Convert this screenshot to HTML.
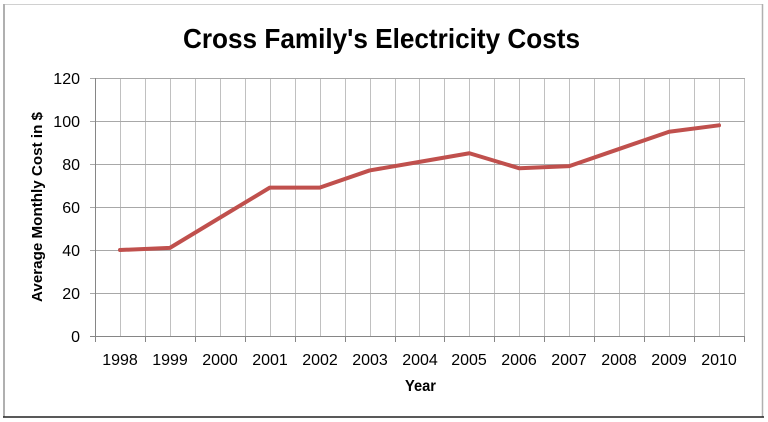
<!DOCTYPE html>
<html><head><meta charset="utf-8"><style>
html,body{margin:0;padding:0;background:#fff;}
svg{display:block;}
text{font-family:"Liberation Sans",sans-serif;fill:#000;}
</style></head><body>
<svg width="768" height="422" viewBox="0 0 768 422" xmlns="http://www.w3.org/2000/svg">
<rect x="0" y="0" width="768" height="422" fill="#fff"/>
<!-- frame -->
<line x1="4" y1="4.5" x2="763" y2="4.5" stroke="#d0d0d0" stroke-width="1"/>
<line x1="4" y1="4" x2="4" y2="417" stroke="#b0b0b0" stroke-width="2"/>
<line x1="762.5" y1="4" x2="762.5" y2="417" stroke="#b0b0b0" stroke-width="1.5"/>
<line x1="3" y1="417" x2="764" y2="417" stroke="#222" stroke-width="1.5"/>
<!-- title -->
<text x="381.5" y="48" font-size="28" font-weight="bold" text-anchor="middle" textLength="397" lengthAdjust="spacingAndGlyphs">Cross Family's Electricity Costs</text>
<!-- vertical gridlines -->
<g stroke="#c0c0c0" stroke-width="1">
<line x1="120.5" y1="78" x2="120.5" y2="336"/><line x1="145.5" y1="78" x2="145.5" y2="336"/>
<line x1="170.5" y1="78" x2="170.5" y2="336"/><line x1="195.5" y1="78" x2="195.5" y2="336"/>
<line x1="220.5" y1="78" x2="220.5" y2="336"/><line x1="245.5" y1="78" x2="245.5" y2="336"/>
<line x1="270.5" y1="78" x2="270.5" y2="336"/><line x1="295.5" y1="78" x2="295.5" y2="336"/>
<line x1="320.5" y1="78" x2="320.5" y2="336"/><line x1="345.5" y1="78" x2="345.5" y2="336"/>
<line x1="370.5" y1="78" x2="370.5" y2="336"/><line x1="395.5" y1="78" x2="395.5" y2="336"/>
<line x1="419.5" y1="78" x2="419.5" y2="336"/><line x1="444.5" y1="78" x2="444.5" y2="336"/>
<line x1="469.5" y1="78" x2="469.5" y2="336"/><line x1="494.5" y1="78" x2="494.5" y2="336"/>
<line x1="519.5" y1="78" x2="519.5" y2="336"/><line x1="544.5" y1="78" x2="544.5" y2="336"/>
<line x1="569.5" y1="78" x2="569.5" y2="336"/><line x1="594.5" y1="78" x2="594.5" y2="336"/>
<line x1="619.5" y1="78" x2="619.5" y2="336"/><line x1="644.5" y1="78" x2="644.5" y2="336"/>
<line x1="669.5" y1="78" x2="669.5" y2="336"/><line x1="694.5" y1="78" x2="694.5" y2="336"/>
<line x1="719.5" y1="78" x2="719.5" y2="336"/><line x1="744.5" y1="78" x2="744.5" y2="341"/>
</g>
<!-- horizontal gridlines -->
<g stroke="#a8a8a8" stroke-width="1">
<line x1="90" y1="78.5" x2="745" y2="78.5"/>
<line x1="90" y1="121.5" x2="745" y2="121.5"/>
<line x1="90" y1="164.5" x2="745" y2="164.5"/>
<line x1="90" y1="207.5" x2="745" y2="207.5"/>
<line x1="90" y1="250.5" x2="745" y2="250.5"/>
<line x1="90" y1="293.5" x2="745" y2="293.5"/>
</g>
<!-- axes -->
<g stroke="#868686" stroke-width="1">
<line x1="95.5" y1="78" x2="95.5" y2="337"/>
<line x1="90" y1="336.5" x2="745" y2="336.5"/>
<line x1="95.5" y1="336" x2="95.5" y2="342"/><line x1="145.5" y1="336" x2="145.5" y2="342"/>
<line x1="195.5" y1="336" x2="195.5" y2="342"/><line x1="245.5" y1="336" x2="245.5" y2="342"/>
<line x1="295.5" y1="336" x2="295.5" y2="342"/><line x1="345.5" y1="336" x2="345.5" y2="342"/>
<line x1="395.5" y1="336" x2="395.5" y2="342"/><line x1="444.5" y1="336" x2="444.5" y2="342"/>
<line x1="494.5" y1="336" x2="494.5" y2="342"/><line x1="544.5" y1="336" x2="544.5" y2="342"/>
<line x1="594.5" y1="336" x2="594.5" y2="342"/><line x1="644.5" y1="336" x2="644.5" y2="342"/>
<line x1="694.5" y1="336" x2="694.5" y2="342"/><line x1="744.5" y1="336" x2="744.5" y2="342"/>
</g>
<!-- y labels -->
<g font-size="16" text-anchor="end">
<text x="80" y="84">120</text>
<text x="80" y="127">100</text>
<text x="80" y="170">80</text>
<text x="80" y="213">60</text>
<text x="80" y="256">40</text>
<text x="80" y="299">20</text>
<text x="80" y="342">0</text>
</g>
<!-- x labels -->
<g font-size="16" text-anchor="middle">
<text x="120" y="365">1998</text><text x="170" y="365">1999</text>
<text x="220" y="365">2000</text><text x="270" y="365">2001</text>
<text x="320" y="365">2002</text><text x="370" y="365">2003</text>
<text x="420" y="365">2004</text><text x="469" y="365">2005</text>
<text x="519" y="365">2006</text><text x="569" y="365">2007</text>
<text x="619" y="365">2008</text><text x="669" y="365">2009</text>
<text x="719" y="365">2010</text>
</g>
<!-- axis titles -->
<text x="420.5" y="391" font-size="16" font-weight="bold" text-anchor="middle" textLength="31" lengthAdjust="spacingAndGlyphs">Year</text>
<text transform="translate(42,207) rotate(-90)" x="0" y="0" font-size="15" font-weight="bold" text-anchor="middle" textLength="190" lengthAdjust="spacingAndGlyphs">Average Monthly Cost in $</text>
<!-- series -->
<polyline fill="none" stroke="#C0504D" stroke-width="4" stroke-linejoin="round" stroke-linecap="round"
points="120,250 169.9,247.85 219.8,217.75 269.8,187.65 319.7,187.65 369.6,170.45 419.5,161.85 469.4,153.25 519.4,168.3 569.3,166.15 619.2,148.95 669.1,131.75 719,125.3"/>
</svg>
</body></html>
